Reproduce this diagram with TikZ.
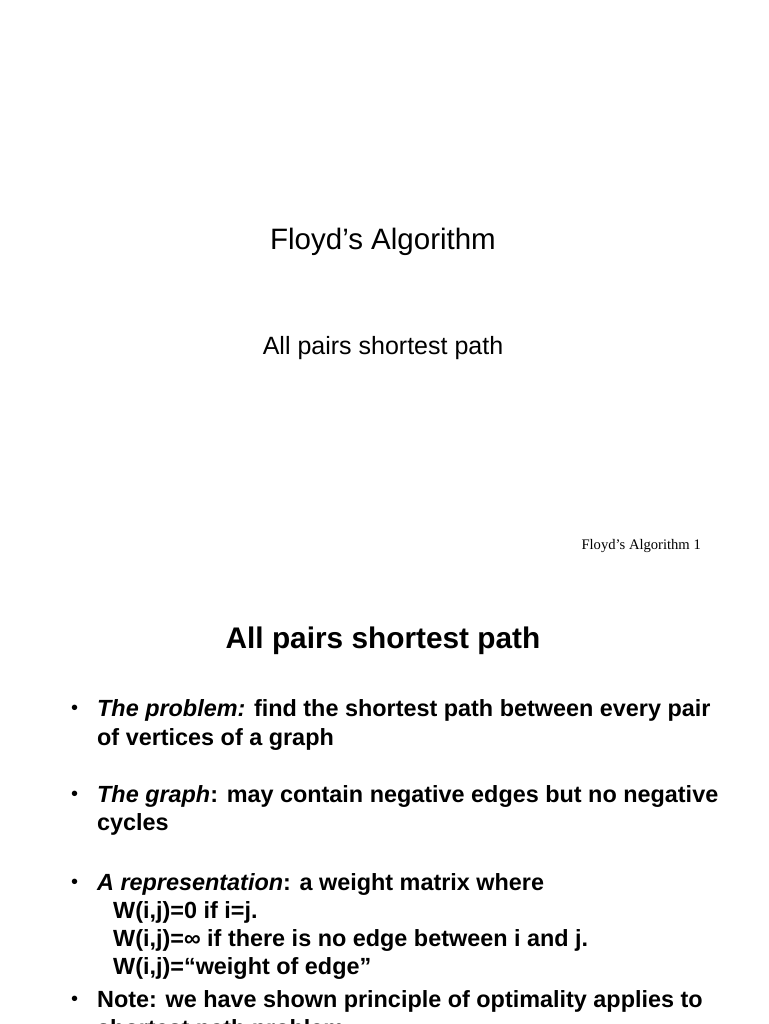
\documentclass[tikz,border=0pt]{standalone}
\usepackage{fontspec}
\setmainfont{Liberation Sans}
\newfontfamily\serifft{Liberation Serif}
\begin{document}
\begin{tikzpicture}[x=1pt,y=-1pt,
  ttl/.style={font=\fontsize{29.5}{34}\selectfont},
  sub/.style={font=\fontsize{25}{30}\selectfont},
  bl/.style={anchor=west,inner sep=0pt,font=\fontsize{23.4}{28}\selectfont\bfseries},
  dot/.style={anchor=west,inner sep=0pt,font=\fontsize{20}{24}\selectfont}]
\useasboundingbox (0,0) rectangle (768,1024);
\clip (0,0) rectangle (768,1024);
\node[ttl] (t1) at (383,242) {Floyd’s Algorithm};
\node[sub] (s1) at (383,348) {All pairs shortest path};
\node[anchor=east,inner sep=0pt,font=\serifft\fontsize{14.6}{17}\selectfont] (f1) at (701,546) {Floyd’s Algorithm 1};
\node[font=\fontsize{29.8}{35}\selectfont\bfseries] (t2) at (383,641) {All pairs shortest path};
\foreach \y/\n in {710/b1,796/b2,884/b3,1001/b4}{\node[dot] (\n) at (71,\y) {•};}
\node[bl] (l1) at (97,710) {\textit{The problem:} find the shortest path between every pair};
\node[bl] (l2) at (97,739) {of vertices of a graph};
\node[bl] (l3) at (97,796) {\textit{The graph}: may contain negative edges but no negative};
\node[bl] (l4) at (97,824) {cycles};
\node[bl] (l5) at (97,884) {\textit{A representation}: a weight matrix where};
\node[bl] (l6) at (113,912) {W(i,j)=0 if i=j.};
\node[bl] (l7) at (113,940) {W(i,j)=∞ if there is no edge between i and j.};
\node[bl] (l8) at (113,968) {W(i,j)=“weight of edge”};
\node[bl] (l9) at (97,1001) {Note: we have shown principle of optimality applies to};
\node[bl] (l10) at (97,1030) {shortest path problem};
\end{tikzpicture}
\end{document}
